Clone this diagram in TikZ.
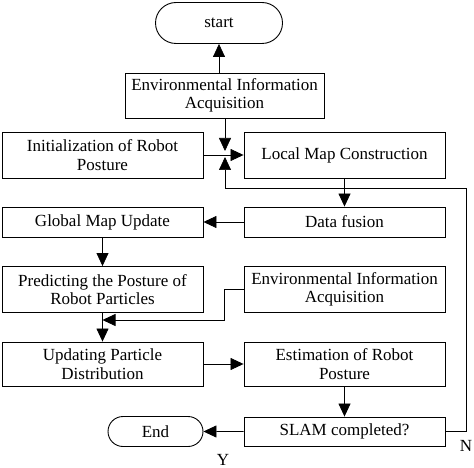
\documentclass[tikz,border=0pt]{standalone}
\usepackage{fontspec}
\setmainfont{Liberation Serif}
\usetikzlibrary{shapes,arrows.meta}
\tikzstyle{every picture}=[node distance=242pt, x=1pt, y=-1pt,%
	>={Triangle[length=13pt,width=12pt]}, line width=0.7pt]
\tikzstyle{box}=[draw, line width=0.9pt, minimum width=201pt, minimum height=46pt,%
	align=center, inner sep=1pt, font=\fontsize{17}{18.5}\selectfont]
\tikzstyle{term}=[box, rounded rectangle]

\begin{document}
\begin{tikzpicture}
	\useasboundingbox (0,0) rectangle (474,468);
	\node[term, minimum width=129pt, minimum height=41pt] (start) at (219,23) {start};
	\node[box, minimum width=199pt, minimum height=45pt] (env) at (224.5,95.5) {Environmental Information\\Acquisition};
	\node[box] (init) at (102.5,155) {Initialization of Robot\\Posture};
	\node[box] (local) [right of=init] {Local Map Construction};
	\node[box, minimum height=30pt] (gmu) at (102.5,222) {Global Map Update};
	\node[box, minimum height=30pt] (fusion) [right of=gmu] {Data fusion};
	\node[box] (pred) at (102.5,289.5) {Predicting the Posture of\\Robot Particles};
	\node[box] (env2) [right of=pred] {Environmental Information\\Acquisition};
	\node[box, minimum height=44pt] (upd) at (102.5,364) {Updating Particle\\Distribution};
	\node[box, minimum height=44pt] (est) [right of=upd] {Estimation of Robot\\Posture};
	\node[box, minimum height=29pt] (slam) at (344.5,431.5) {SLAM completed?};
	\node[term, minimum width=97pt, minimum height=30pt] (end) at (155.5,431.5) {End};
	\node[font=\fontsize{17}{18.5}\selectfont] (yes) at (223,460) {Y};
	\node[font=\fontsize{17}{18.5}\selectfont] (no) at (466,446) {N};
	\coordinate (jn) at (225,155);
	\coordinate (loop) at (466,188);
	\coordinate (merge) at (224,320);
	% main flow
	\draw[->] (env.north -| start.south) -- (start.south);
	\draw[->, shorten >=4pt] (env.south -| jn) -- (jn);
	\draw[->] (init) -- (local);
	\draw[->] (local.south) -- (fusion.north);
	\draw[->] (fusion) -- (gmu);
	\draw[->] (gmu) -- (pred);
	\draw[->] (pred) -- (upd);
	\draw[->] (upd) -- (est);
	\draw[->] (est) -- (slam);
	\draw[->] (slam) -- (end);
	% feedback loops
	\draw[->, shorten >=2pt] (slam.east) -| (loop) -- (loop -| jn) -- (jn);
	\draw[->] (env2.west) -| (merge) -- (merge -| pred.south);
\end{tikzpicture}
\end{document}
